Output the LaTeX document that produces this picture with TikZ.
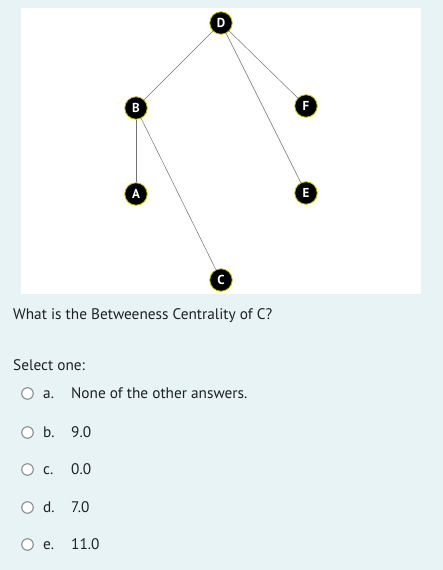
\documentclass[tikz,border=0pt]{standalone}
\usepackage{fontspec}
\setmainfont{PT Sans}
\setsansfont{PT Sans}
\usetikzlibrary{arrows}
\definecolor{pagebg}{HTML}{E7F3F5}
\definecolor{qtext}{HTML}{1D2125}
\definecolor{ringc}{HTML}{C8C400}

\begin{document}
\begin{tikzpicture}[x=1pt,y=1pt,-,auto,node distance=85pt,
  graph node/.style={circle,fill=black,draw=ringc,line width=0.8pt,inner sep=0pt,minimum size=22.5pt,text=white,font=\sffamily\fontsize{13}{14}\selectfont\bfseries},
  text node/.style={anchor=base west,inner sep=0pt,text=qtext,font=\fontsize{15.3}{17}\selectfont},
  radio node/.style={circle,draw=black!45,fill=white,line width=1.1pt,minimum size=11.5pt,inner sep=0pt}]

  \useasboundingbox (0,0) rectangle (443,-570);
  \fill[pagebg] (0,0) rectangle (443,-570);
  \fill[white] (21,-8) rectangle (421,-294);

  \node[graph node] (D) at (221,-23) {D};
  \node[graph node] (B) [left of=D,yshift=-85pt] {B};
  \node[graph node] (F) [right of=D,yshift=-83pt] {F};
  \node[graph node] (A) [below of=B,yshift=-1pt] {A};
  \node[graph node] (E) [below of=F,yshift=-2pt] {E};
  \node[graph node] (C) [right of=B,yshift=-172pt] {C};
  \path[draw=black!55,line width=0.5pt]
    (D) edge node {} (B)
    (D) edge node {} (F)
    (D) edge node {} (E)
    (B) edge node {} (A)
    (B) edge node {} (C);

  % question and answers
  \node[text node] (q) at (13,-319) {What is the Betweeness Centrality of C?};
  \node[text node] (sel) at (13,-370) {Select one:};
  \foreach \k/\y/\ans in {a/398/None of the other answers.,b/437/9.0,c/474/0.0,d/512/7.0,e/549/11.0}{
    \node[radio node] (r\k) at (27.5,-\y+4.5) {};
    \node[text node] (l\k) at (43,-\y) {\k.};
    \node[text node] (v\k) at (71,-\y) {\ans};
  }
\end{tikzpicture}
\end{document}
